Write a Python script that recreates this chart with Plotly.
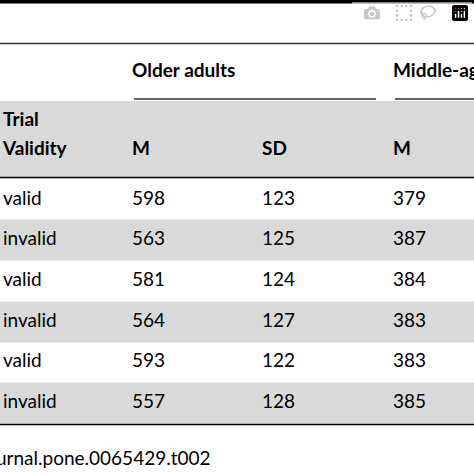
import plotly.graph_objects as go

validity = ["valid", "invalid", "valid", "invalid", "valid", "invalid"]
older_m = [598, 563, 581, 564, 593, 557]
older_sd = [123, 125, 124, 127, 122, 128]
middle_m = [379, 387, 384, 383, 383, 385]
groups = ["Older adults", "Middle-aged adults"]
subheads = ["M", "SD", "M"]
footer = "urnal.pone.0065429.t002"

W = H = 474
row_y = [200, 240, 281, 322, 362, 403]
row_h = 41
col_x = [3, 132, 262, 393]
FONT = "Lato"
FS = 19

fig = go.Figure()
shapes = []
shapes.append(dict(type="rect", x0=0, x1=W, y0=101, y1=177, fillcolor="#d9d9d9", line_width=0, layer="below"))
for i, v in enumerate(validity):
    if v == "invalid":
        shapes.append(dict(type="rect", x0=0, x1=W, y0=row_y[i] - row_h / 2, y1=row_y[i] + row_h / 2,
                           fillcolor="#d9d9d9", line_width=0, layer="below"))
shapes += [
    dict(type="line", x0=0, x1=W, y0=1.5, y1=1.5, line=dict(color="black", width=4)),
    dict(type="line", x0=0, x1=W, y0=43.5, y1=43.5, line=dict(color="#333", width=1.5)),
    dict(type="line", x0=134, x1=376, y0=99, y1=99, line=dict(color="#333", width=1.5)),
    dict(type="line", x0=395, x1=W, y0=99, y1=99, line=dict(color="#333", width=1.5)),
    dict(type="line", x0=0, x1=W, y0=177.5, y1=177.5, line=dict(color="black", width=1.5)),
    dict(type="line", x0=0, x1=W, y0=424.5, y1=424.5, line=dict(color="black", width=1.5)),
]

def txt(xs, ys, texts, bold=False):
    fig.add_trace(go.Scatter(
        x=xs, y=ys, text=texts, mode="text", textposition="middle right",
        cliponaxis=True, hoverinfo="skip", showlegend=False,
        textfont=dict(family=FONT, size=FS, color="black", weight=700 if bold else 400)))

txt([col_x[1], col_x[3]], [72, 72], groups, bold=True)
txt([col_x[0], col_x[0]], [121, 150], ["Trial", "Validity"], bold=True)
txt(col_x[1:], [150] * 3, subheads, bold=True)
txt([col_x[0]] * 6, row_y, validity)
txt([col_x[1]] * 6, row_y, [str(v) for v in older_m])
txt([col_x[2]] * 6, row_y, [str(v) for v in older_sd])
txt([col_x[3]] * 6, row_y, [str(v) for v in middle_m])
txt([-4], [460], [footer])

fig.update_layout(
    width=W, height=H, margin=dict(l=0, r=0, t=0, b=0),
    paper_bgcolor="white", plot_bgcolor="white", shapes=shapes,
    xaxis=dict(range=[0, W], visible=False, fixedrange=True),
    yaxis=dict(range=[H, 0], visible=False, fixedrange=True),
)
fig.write_html("out.html", post_script="document.body.style.margin='0';document.body.style.overflow='hidden';")
